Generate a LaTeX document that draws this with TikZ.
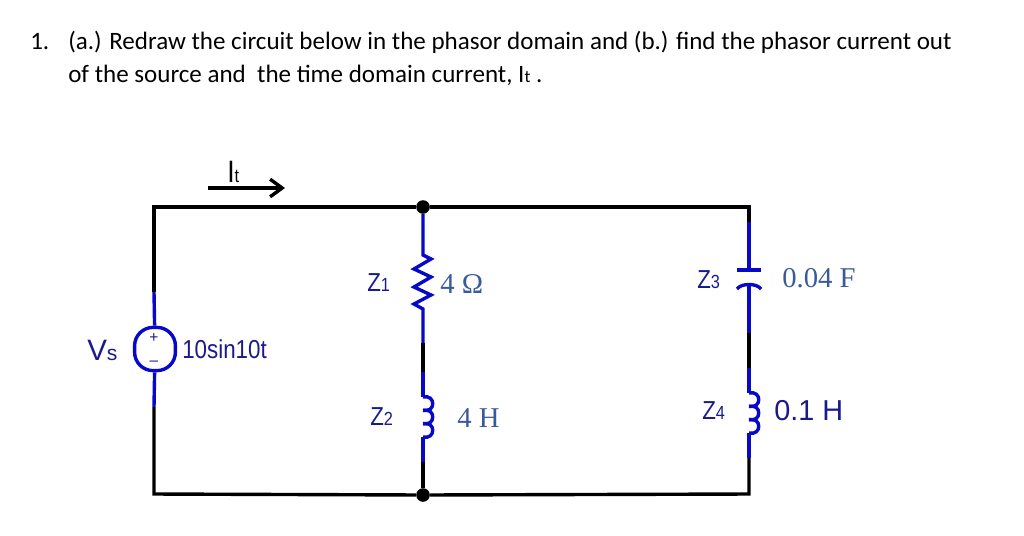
\documentclass[tikz,border=0pt]{standalone}
\usepackage{fontspec}
\setmainfont{Carlito}
\newfontfamily\labelfont{Liberation Sans}
\newfontfamily\valuefont{Liberation Serif}
\usetikzlibrary{arrows.meta}
\definecolor{wireblue}{HTML}{0808C8}
\definecolor{labelnavy}{HTML}{1A1A8C}
\definecolor{valueblue}{HTML}{3A5A9A}
\tikzset{
  wire/.style={line width=0.85mm,black},
  part/.style={line width=0.85mm,wireblue},
  txt/.style={anchor=base west,inner sep=0pt,font=\fontsize{17.8pt}{20pt}\selectfont},
  zlabel/.style={anchor=base west,inner sep=0pt,text=labelnavy,font=\labelfont\fontsize{18.5pt}{20pt}\selectfont},
  val/.style={anchor=base west,inner sep=0pt,text=valueblue,font=\valuefont\fontsize{20.4pt}{22pt}\selectfont},
  dotnode/.style={circle,fill=black,inner sep=0pt,minimum size=3.4mm},
}
\newcommand{\zname}[2]{\scalebox{0.86}[1]{#1{\fontsize{13.5pt}{14pt}\selectfont #2}}}
\begin{document}
\begin{tikzpicture}[x=0.25mm,y=-0.25mm]
  \useasboundingbox (0,0) rectangle (1024,535);
  % question text
  \node[txt] (num) at (30,49) {1.};
  \node[txt] (lineone) at (68,49) {(a.) Redraw the circuit below in the phasor domain and (b.) find the phasor current out};
  \node[txt] (linetwo) at (68,82) {of the source and\ \ the time domain current, I{\fontsize{12.5pt}{14pt}\selectfont t} .};
  % corners and joints
  \coordinate (tl) at (154,207);
  \coordinate (bl) at (154,494);
  \coordinate (tr) at (749,207);
  \coordinate (br) at (749,494);
  \coordinate (sa) at (154,292);
  \coordinate (sb) at (154,407);
  \coordinate (ma) at (423,343);
  \coordinate (mb) at (423,372);
  \coordinate (mc) at (423,462);
  \coordinate (ra) at (749,222);
  \coordinate (rb) at (749,333);
  \coordinate (rc) at (749,368);
  \coordinate (rd) at (749,458);
  % two dots
  \node[dotnode] (topdot) at (423,207) {};
  \node[dotnode] (botdot) at (423,495) {};
  % source
  \node[draw=wireblue,line width=0.85mm,rounded corners=4.6mm,minimum width=10.2mm,minimum height=10.8mm,inner sep=0pt] (src) at (155,349) {};
  \node[inner sep=0pt,text=labelnavy,font=\labelfont\fontsize{11pt}{12pt}\selectfont] (srcp) at (154,338) {+};
  \node[inner sep=0pt,text=labelnavy,font=\labelfont\fontsize{11pt}{12pt}\selectfont] (srcm) at (154,363) {–};
  % black wires
  \draw[wire] (sa) -- (tl) -- (topdot);
  \draw[wire] (topdot) -- (tr) -- (ra);
  \draw[wire] (sb) -- (bl) -- (botdot);
  \draw[wire] (botdot) -- (br) -- (rd);
  \draw[wire] (ma) -- (mb);
  \draw[wire] (mc) -- (botdot);
  \draw[wire] (rb) -- (rc);
  % source leads
  \draw[part] (sa) -- (src);
  \draw[part] (src) -- (sb);
  % resistor
  \coordinate (resa) at (423,255);
  \coordinate (resb) at (423,309);
  \draw[part] (topdot) -- (resa) -- (431,259) -- (414,269) -- (431,277) -- (414,287) -- (431,295) -- (414,304) -- (resb) -- (ma);
  % two coils
  \coordinate (coila) at (423,397);
  \coordinate (coilb) at (423,437);
  \coordinate (coilc) at (749,393);
  \coordinate (coild) at (749,433);
  \draw[part] (mb) -- (coila);
  \draw[part] (coilb) -- (mc);
  \draw[part] (rc) -- (coilc);
  \draw[part] (coild) -- (rd);
  \foreach \i in {0,1,2}{
    \draw[part] (423,397+\i*13.33) .. controls +(13,-3) and +(13,3) .. +(0,13.33);
    \draw[part] (749,393+\i*13.33) .. controls +(13,-3) and +(13,3) .. +(0,13.33);
  }
  % capacitor
  \coordinate (capa) at (749,270);
  \coordinate (capb) at (749,285);
  \draw[part] (ra) -- (capa);
  \draw[part] (737,270) -- (761,270);
  \draw[part] (737,289) .. controls (741,283) and (757,283) .. (761,289);
  \draw[part] (capb) -- (rb);
  % current arrow
  \coordinate (arra) at (208,188);
  \coordinate (arrb) at (285,188);
  \draw[wire,-{Straight Barb[length=3mm,width=4.4mm]}] (arra) -- (arrb);
  % labels
  \node[zlabel,text=black,font=\labelfont\fontsize{22pt}{24pt}\selectfont] (itlabel) at (227,182) {\zname{I}{t}};
  \node[zlabel,font=\labelfont\fontsize{21pt}{22pt}\selectfont] (vslabel) at (87,360) {V{\fontsize{15pt}{16pt}\selectfont s}};
  \node[zlabel] (srclabel) at (182,358) {\scalebox{0.86}[1]{10sin10t}};
  \node[zlabel] (zone) at (367,291) {\zname{Z}{1}};
  \node[zlabel] (ztwo) at (370,425) {\zname{Z}{2}};
  \node[zlabel] (zthree) at (697,288) {\zname{Z}{3}};
  \node[zlabel] (zfour) at (702,419) {\zname{Z}{4}};
  \node[val] (rval) at (440,293) {4 Ω};
  \node[val] (lval) at (457,427) {4 H};
  \node[val] (cval) at (782,287) {0.04 F};
  \node[zlabel,font=\labelfont\fontsize{20.5pt}{22pt}\selectfont] (lvaltwo) at (774,420) {0.1 H};
\end{tikzpicture}
\end{document}
